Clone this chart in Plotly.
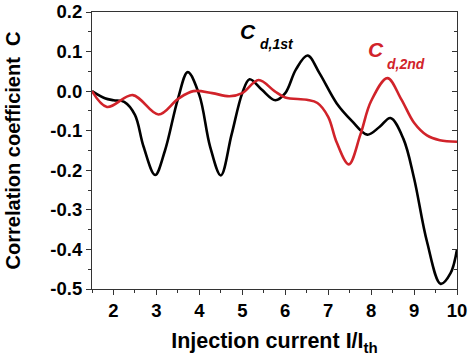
import plotly.graph_objects as go

# Cd,1st (black)
x_1st = [1.5, 1.8, 2.0, 2.25, 2.5, 2.7, 2.97, 3.2, 3.5, 3.73, 4.0, 4.25, 4.5, 4.75, 5.0, 5.17,
         5.45, 5.77, 6.0, 6.25, 6.52, 6.8, 7.2, 7.55, 7.91, 8.2, 8.45, 8.75, 9.0, 9.3, 9.62, 9.85, 10.0]
y_1st = [0.0, -0.018, -0.023, -0.027, -0.06, -0.14, -0.212, -0.15, -0.02, 0.048, -0.01, -0.14, -0.213,
         -0.11, -0.005, 0.03, 0.004, -0.023, -0.005, 0.055, 0.09, 0.045, -0.031, -0.075, -0.11, -0.09,
         -0.068, -0.12, -0.22, -0.38, -0.487, -0.46, -0.40]

# Cd,2nd (red)
x_2nd = [1.5, 1.85, 2.45, 3.05, 3.5, 3.86, 4.3, 4.7, 5.0, 5.38, 5.75, 6.0, 6.5, 6.75, 7.0, 7.2, 7.48,
         7.75, 8.0, 8.38, 8.7, 9.0, 9.3, 9.6, 10.0]
y_2nd = [0.0, -0.04, -0.01, -0.059, -0.02, 0.0, -0.005, -0.013, -0.005, 0.028, 0.0, -0.016, -0.022,
         -0.03, -0.065, -0.13, -0.185, -0.11, -0.025, 0.033, -0.02, -0.08, -0.112, -0.124, -0.128]

x_ticks = [2, 3, 4, 5, 6, 7, 8, 9, 10]
y_ticks = [0.2, 0.1, 0.0, -0.1, -0.2, -0.3, -0.4, -0.5]
y_tick_text = ["0.2", "0.1", "0.0", "-0.1", "-0.2", "-0.3", "-0.4", "-0.5"]

BLACK = "#000000"
RED = "#d1232a"
FONT = "Liberation Sans, Arial, sans-serif"

fig = go.Figure()
fig.add_trace(go.Scatter(x=x_1st, y=y_1st, mode="lines", line=dict(color=BLACK, width=2.6, shape="spline", smoothing=1.0),
                         showlegend=False, hoverinfo="skip"))
fig.add_trace(go.Scatter(x=x_2nd, y=y_2nd, mode="lines", line=dict(color=RED, width=2.6, shape="spline", smoothing=1.0),
                         showlegend=False, hoverinfo="skip"))
# invisible trace to create the right-hand mirror axis
fig.add_trace(go.Scatter(x=[x_1st[0]], y=[y_1st[0]], yaxis="y2", mode="markers", marker=dict(opacity=0),
                         showlegend=False, hoverinfo="skip"))

axis_line = "#333333"
fig.update_layout(
    width=474, height=356,
    margin=dict(l=92, r=17, t=12, b=67, autoexpand=False),
    paper_bgcolor="white", plot_bgcolor="white",
    font=dict(family=FONT, color="black"),
    xaxis=dict(range=[1.5, 10], tickvals=x_ticks, ticks="outside", ticklen=5, tickwidth=1.2, tickcolor=axis_line,
               showline=True, linecolor=axis_line, linewidth=1.2, mirror=True, showgrid=False, zeroline=False,
               automargin=False, ticklabeloverflow="allow",
               tickfont=dict(size=18.5, weight="bold", family=FONT),
               minor=dict(dtick=0.5, ticks="outside", ticklen=3, tickcolor=axis_line, showgrid=False),
               title=dict(text="Injection current I/I<sub>th</sub>", font=dict(size=21.5, weight="bold", family=FONT), standoff=21)),
    yaxis=dict(range=[-0.5, 0.2], tickvals=y_ticks, ticktext=y_tick_text, ticks="outside", ticklen=5, tickwidth=1.2,
               tickcolor=axis_line, showline=True, linecolor=axis_line, linewidth=1.2, mirror=False, showgrid=False,
               zeroline=False, automargin=False, ticklabeloverflow="allow",
               tickfont=dict(size=18.5, weight="bold", family=FONT),
               minor=dict(dtick=0.05, ticks="outside", ticklen=3, tickcolor=axis_line, showgrid=False),
               title=dict(text="Correlation coefficient  C", font=dict(size=20, weight="bold", family=FONT), standoff=24)),
    yaxis2=dict(range=[-0.5, 0.2], overlaying="y", side="right", tickvals=y_ticks, ticks="inside", ticklen=5,
                tickwidth=1.2, tickcolor=axis_line, showticklabels=False, showline=True, linecolor=axis_line,
                linewidth=1.2, showgrid=False, zeroline=False, automargin=False,
                minor=dict(dtick=0.05, ticks="inside", ticklen=3, tickcolor=axis_line, showgrid=False)),
)

ann_font_big = dict(family=FONT, size=21, weight="bold", style="italic")
ann_font_small = dict(family=FONT, size=14, weight="bold", style="italic")
fig.add_annotation(xref="paper", yref="paper", x=0.400, y=0.928, xanchor="left", yanchor="middle", showarrow=False,
                   text="C", font=dict(ann_font_big, color=BLACK))
fig.add_annotation(xref="paper", yref="paper", x=0.456, y=0.885, xanchor="left", yanchor="middle", showarrow=False,
                   text="d,1st", font=dict(ann_font_small, color=BLACK))
fig.add_annotation(xref="paper", yref="paper", x=0.752, y=0.863, xanchor="left", yanchor="middle", showarrow=False,
                   text="C", font=dict(ann_font_big, color=RED))
fig.add_annotation(xref="paper", yref="paper", x=0.803, y=0.812, xanchor="left", yanchor="middle", showarrow=False,
                   text="d,2nd", font=dict(ann_font_small, color=RED))

fig.write_html("out.html", config={"displayModeBar": False},
               post_script="document.body.style.margin='0';")
